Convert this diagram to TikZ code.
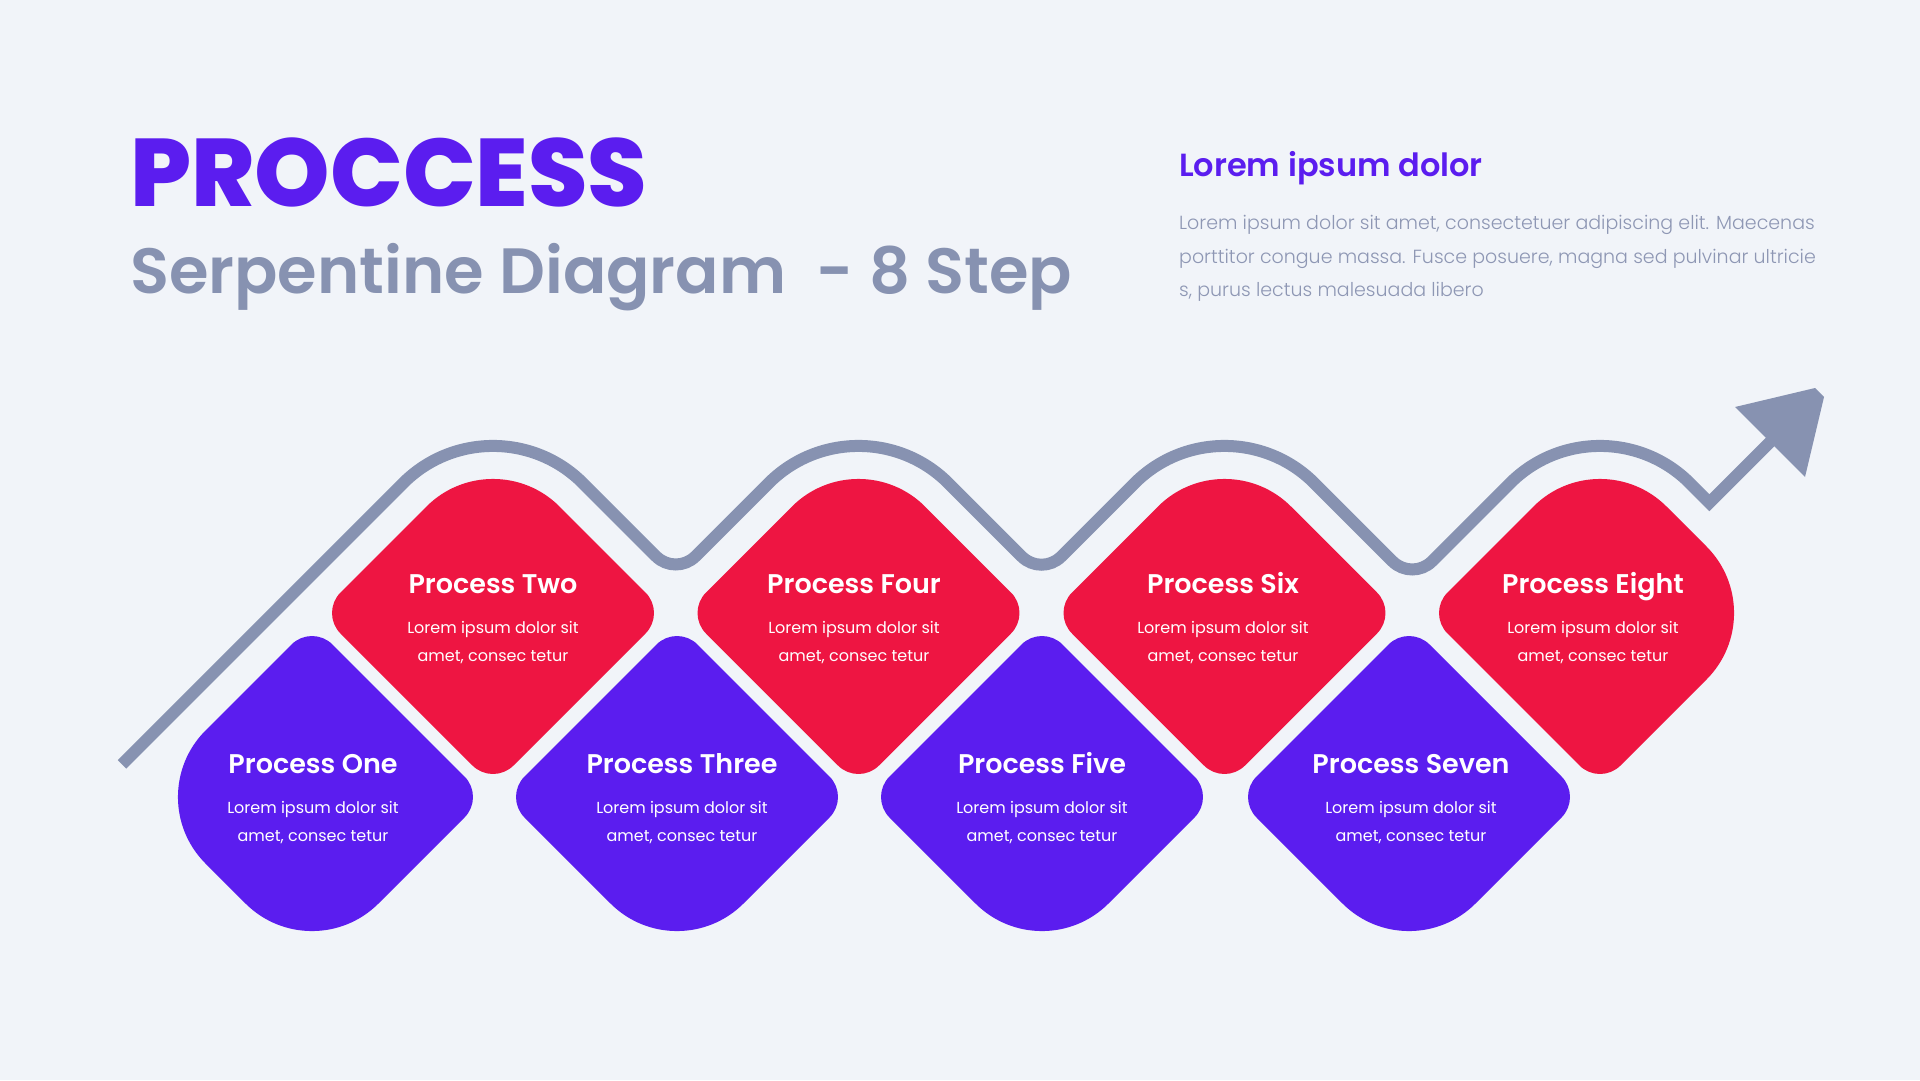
\documentclass[tikz,border=0pt]{standalone}
\usepackage{fontspec}
\setmainfont{Poppins}
\IfFontExistsTF{Poppins SemiBold}{\newfontfamily\fsemi{Poppins SemiBold}}{\newcommand\fsemi{\bfseries}}
\IfFontExistsTF{Poppins ExtraBold}{\newfontfamily\fxbold{Poppins ExtraBold}}{\newcommand\fxbold{\bfseries}}
\IfFontExistsTF{Poppins Light}{\newfontfamily\flight{Poppins Light}}{\newcommand\flight{\normalfont}}
\usetikzlibrary{calc}
\definecolor{bgc}{HTML}{F1F4F9}
\definecolor{pblue}{HTML}{5B1DEF}
\definecolor{pred}{HTML}{EE1542}
\definecolor{linec}{HTML}{8792B1}
\definecolor{parac}{HTML}{8E97B4}
\def\rdD{173}
\def\rs{29}
\def\rb{94}
% rounded diamond: cx, cy, rTop, rRight, rBottom, rLeft, colour
\newcommand\rdiam[7]{%
  \pgfmathsetmacro\rdcx{#1}\pgfmathsetmacro\rdcy{#2}%
  \pgfmathsetmacro\rdT{0.7071*#3}\pgfmathsetmacro\rdR{0.7071*#4}%
  \pgfmathsetmacro\rdB{0.7071*#5}\pgfmathsetmacro\rdL{0.7071*#6}%
  \fill[#7] (\rdcx-\rdD/2,\rdcy-\rdD/2)
    -- (\rdcx-\rdT,\rdcy-\rdD+\rdT)
    .. controls (\rdcx-0.448*\rdT,\rdcy-\rdD+0.448*\rdT) and (\rdcx+0.448*\rdT,\rdcy-\rdD+0.448*\rdT) .. (\rdcx+\rdT,\rdcy-\rdD+\rdT)
    -- (\rdcx+\rdD-\rdR,\rdcy-\rdR)
    .. controls (\rdcx+\rdD-0.448*\rdR,\rdcy-0.448*\rdR) and (\rdcx+\rdD-0.448*\rdR,\rdcy+0.448*\rdR) .. (\rdcx+\rdD-\rdR,\rdcy+\rdR)
    -- (\rdcx+\rdB,\rdcy+\rdD-\rdB)
    .. controls (\rdcx+0.448*\rdB,\rdcy+\rdD-0.448*\rdB) and (\rdcx-0.448*\rdB,\rdcy+\rdD-0.448*\rdB) .. (\rdcx-\rdB,\rdcy+\rdD-\rdB)
    -- (\rdcx-\rdD+\rdL,\rdcy+\rdL)
    .. controls (\rdcx-\rdD+0.448*\rdL,\rdcy+0.448*\rdL) and (\rdcx-\rdD+0.448*\rdL,\rdcy-0.448*\rdL) .. (\rdcx-\rdD+\rdL,\rdcy-\rdL)
    -- cycle;}
% texts of a step: name, x, title baseline, title
\newcommand\proctext[4]{%
  \node[ttl] (#1t) at (#2,#3) {#4};
  \node[bdy] (#1a) at (#2,#3+40) {Lorem ipsum dolor sit};
  \node[bdy] (#1b) at (#2,#3+68) {amet, consec tetur};}
\begin{document}
\begin{tikzpicture}[x=1pt,y=-1pt,
  ttl/.style={anchor=base,inner sep=0pt,text=white,font=\fsemi\fontsize{27}{27}\selectfont},
  bdy/.style={anchor=base,inner sep=0pt,text=white,font=\fontsize{16}{16}\selectfont},
  hd/.style={anchor=base west,inner sep=0pt},
  para/.style={anchor=base west,inner sep=0pt,text=parac,font=\flight\fontsize{19}{19}\selectfont},
  serp/.style={draw=linec,line width=12pt,line join=miter}]
\fill[bgc] (0,0) rectangle (1920,1080);
\useasboundingbox (0,0) rectangle (1920,1080);

% headings
\node[hd,text=pblue,font=\fxbold\fontsize{96}{96}\selectfont] (title) at (130,206) {PROCCESS};
\node[hd,text=linec,font=\fsemi\fontsize{64}{64}\selectfont] (subtitle) at (130,293) {Serpentine Diagram\ \ - 8 Step};
\node[hd,text=pblue,font=\fsemi\fontsize{32}{32}\selectfont] (head) at (1179,176) {Lorem ipsum dolor};
\node[para] (para1) at (1179,229) {Lorem ipsum dolor sit amet, consectetuer adipiscing elit. Maecenas};
\node[para] (para2) at (1179,263) {porttitor congue massa. Fusce posuere, magna sed pulvinar ultricie};
\node[para] (para3) at (1179,296) {s, purus lectus malesuada libero};

% shapes
\rdiam{312}{797}{\rs}{\rs}{\rb}{\rb}{pblue}
\rdiam{493}{613}{\rb}{\rs}{\rs}{\rs}{pred}
\rdiam{677}{797}{\rs}{\rs}{\rb}{\rs}{pblue}
\rdiam{858.5}{613}{\rb}{\rs}{\rs}{\rs}{pred}
\rdiam{1042}{797}{\rs}{\rs}{\rb}{\rs}{pblue}
\rdiam{1224.5}{613}{\rb}{\rs}{\rs}{\rs}{pred}
\rdiam{1409}{797}{\rs}{\rs}{\rb}{\rs}{pblue}
\rdiam{1600}{613}{\rb}{\rb}{\rs}{\rs}{pred}

% texts
\proctext{p1}{313}{773}{Process One}
\proctext{p2}{493}{593}{Process Two}
\proctext{p3}{682}{773}{Process Three}
\proctext{p4}{854}{593}{Process Four}
\proctext{p5}{1042}{773}{Process Five}
\proctext{p6}{1223}{593}{Process Six}
\proctext{p7}{1411}{773}{Process Seven}
\proctext{p8}{1593}{593}{Process Eight}

% serpentine line
\coordinate (s0) at (122,764.3);
\coordinate (k2) at (493,393.3);
\coordinate (v3) at (675.75,576.05);
\coordinate (k4) at (858.5,393.3);
\coordinate (v5) at (1041.5,576.3);
\coordinate (k6) at (1224.5,393.3);
\coordinate (v7) at (1412.25,581.05);
\coordinate (k8) at (1600,393.3);
\coordinate (v8) at (1709.35,502.65);
\coordinate (ae) at (1771,441);
\draw[serp] (s0)
  -- ($(k2)!127pt!(s0)$) .. controls ($(k2)!56.9pt!(s0)$) and ($(k2)!56.9pt!(v3)$) .. ($(k2)!127pt!(v3)$)
  -- ($(v3)!28pt!(k2)$) .. controls ($(v3)!12.5pt!(k2)$) and ($(v3)!12.5pt!(k4)$) .. ($(v3)!28pt!(k4)$)
  -- ($(k4)!127pt!(v3)$) .. controls ($(k4)!56.9pt!(v3)$) and ($(k4)!56.9pt!(v5)$) .. ($(k4)!127pt!(v5)$)
  -- ($(v5)!28pt!(k4)$) .. controls ($(v5)!12.5pt!(k4)$) and ($(v5)!12.5pt!(k6)$) .. ($(v5)!28pt!(k6)$)
  -- ($(k6)!127pt!(v5)$) .. controls ($(k6)!56.9pt!(v5)$) and ($(k6)!56.9pt!(v7)$) .. ($(k6)!127pt!(v7)$)
  -- ($(v7)!28pt!(k6)$) .. controls ($(v7)!12.5pt!(k6)$) and ($(v7)!12.5pt!(k8)$) .. ($(v7)!28pt!(k8)$)
  -- ($(k8)!127pt!(v7)$) .. controls ($(k8)!56.9pt!(v7)$) and ($(k8)!56.9pt!(v8)$) .. ($(k8)!127pt!(v8)$)
  -- (v8) -- (ae);
\fill[linec] (1735,407) -- (1815,388) -- (1824,397) -- (1805,477) -- cycle;
\end{tikzpicture}
\end{document}
